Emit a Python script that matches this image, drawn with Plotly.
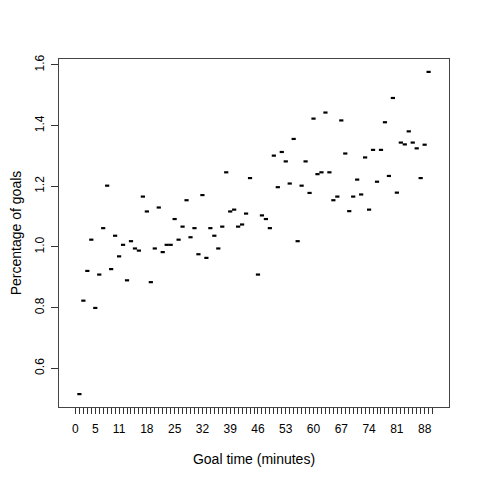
import plotly.graph_objects as go

# goal minute (factor levels 0..90) and share of goals scored in that minute
minutes = list(range(0, 91))
pct_goals = [
    None, 0.515, 0.823, 0.921, 1.024, 0.799, 0.909, 1.062, 1.202, 0.927,
    1.037, 0.969, 1.007, 0.890, 1.019, 0.995, 0.988, 1.166, 1.117, 0.884,
    0.995, 1.130, 0.983, 1.007, 1.007, 1.092, 1.024, 1.067, 1.154, 1.032,
    1.062, 0.976, 1.171, 0.964, 1.062, 1.037, 0.995, 1.067, 1.246, 1.117,
    1.123, 1.067, 1.074, 1.110, 1.227, None, 0.909, 1.104, 1.092, 1.062,
    1.301, 1.197, 1.313, 1.282, 1.209, 1.356, 1.019, 1.202, 1.282, 1.178,
    1.423, 1.240, 1.246, 1.443, 1.246, 1.154, 1.166, 1.417, 1.308, 1.118,
    1.166, 1.222, 1.173, 1.295, 1.123, 1.320, 1.215, 1.320, 1.411, 1.234,
    1.491, 1.179, 1.344, 1.338, 1.381, 1.344, 1.325, 1.227, 1.337, 1.577,
    None,
]
x_labels = [0, 5, 11, 18, 25, 32, 39, 46, 53, 60, 67, 74, 81, 88]
y_ticks = [0.6, 0.8, 1.0, 1.2, 1.4, 1.6]

font = "Liberation Sans, Arial, Helvetica, sans-serif"

fig = go.Figure()
fig.add_trace(go.Scatter(
    x=minutes, y=pct_goals,
    mode="markers",
    marker=dict(symbol="line-ew", size=3,
                line=dict(color="black", width=2.2)),
    showlegend=False,
    hoverinfo="x+y",
))

# R range: data range +/- 4%
vals = [v for v in pct_goals if v is not None]
span = max(vals) - min(vals)
n_lev = len(minutes)
x_pad = 0.04 * n_lev

# the page body has an 8px margin, so margins are shifted by that
fig.update_layout(
    width=480, height=480,
    margin=dict(l=51, r=39, t=51, b=81),
    paper_bgcolor="white", plot_bgcolor="white",
    font=dict(family=font, size=12, color="black"),
    xaxis=dict(
        range=[minutes[0] - 0.5 - x_pad, minutes[-1] + 0.5 + x_pad],
        tickmode="array",
        tickvals=minutes,
        ticktext=[str(m) if m in x_labels else "" for m in minutes],
        ticks="outside", ticklen=6, tickwidth=1, tickcolor="#333",
        ticklabelstandoff=5,
        showgrid=False, zeroline=False,
        showline=True, linecolor="#444", linewidth=1, mirror=True,
        tickangle=0, automargin=False,
        title=dict(text="Goal time (minutes)", standoff=18),
    ),
    yaxis=dict(
        range=[min(vals) - 0.04 * span, max(vals) + 0.04 * span],
        tickmode="array",
        tickvals=y_ticks,
        ticktext=[f"{v:.1f}" for v in y_ticks],
        tickangle=-90,
        ticks="outside", ticklen=7, tickwidth=1, tickcolor="#333",
        ticklabelstandoff=2,
        showgrid=False, zeroline=False,
        showline=True, linecolor="#444", linewidth=1, mirror=True,
        automargin=False,
        title=dict(text="Percentage of goals", standoff=17),
    ),
)

fig.write_html("out.html")
